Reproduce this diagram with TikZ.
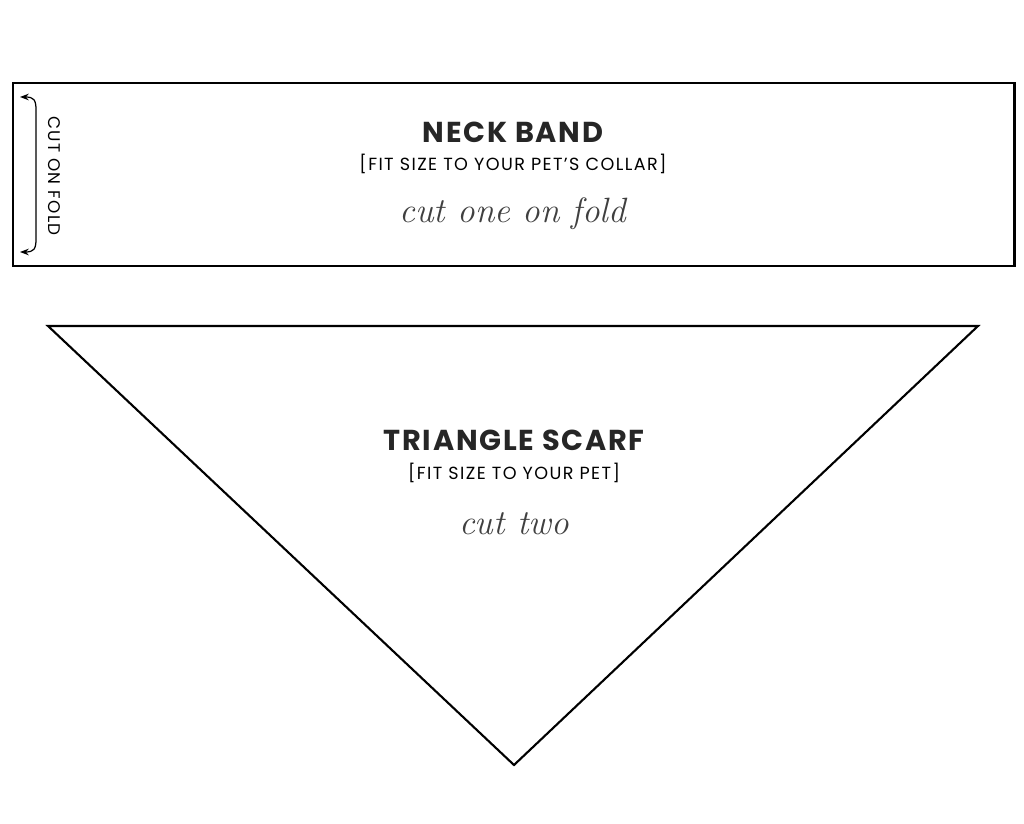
\documentclass[tikz,border=0pt]{standalone}
\usepackage{fontspec}
\setsansfont{Poppins}
\newfontfamily\headfont[LetterSpace=6]{Poppins}
\newfontfamily\notefont[LetterSpace=8]{Poppins}
\usetikzlibrary{arrows.meta}

\tikzset{
  title/.style={font=\headfont\bfseries\fontsize{16.4}{20}\selectfont, text=black!85},
  subtitle/.style={font=\notefont\fontsize{10}{12}\selectfont},
  handnote/.style={font=\rmfamily\itshape\fontsize{20}{24}\selectfont, text=black!75},
}

\begin{document}
\begin{tikzpicture}[x=0.02cm, y=-0.02cm]
\useasboundingbox (0,0) rectangle (1024,824);
%%Neck band
\draw[line width=1.7pt] (13,83) rectangle (1014,266);
\node[title] (band) at (513,132) {NECK BAND};
\node[subtitle] (bandfit) at (513,164) {[FIT SIZE TO YOUR PET’S COLLAR]};
\node[handnote] (bandcut) at (513,214) {cut one on fold};

%%Fold mark
\coordinate (foldtop) at (20,97);
\coordinate (foldbot) at (20,252);
\draw[line width=0.7pt, {Stealth[length=5pt]}-{Stealth[length=5pt]}] (foldtop) .. controls (34,97) and (36,100) .. (36,110) -- (36,239) .. controls (36,249) and (34,252) .. (foldbot);
\node[rotate=-90, font=\notefont\fontsize{9.6}{12}\selectfont] (fold) at (54,176) {CUT ON FOLD};

%%Triangle scarf
\draw[line width=1.2pt] (48,326) -- (978,326) -- (514,765) -- cycle;
\node[title] (scarf) at (514,440) {TRIANGLE SCARF};
\node[subtitle] (scarffit) at (514,473) {[FIT SIZE TO YOUR PET]};
\node[handnote] (scarfcut) at (514,524) {cut two};
\end{tikzpicture}
\end{document}
